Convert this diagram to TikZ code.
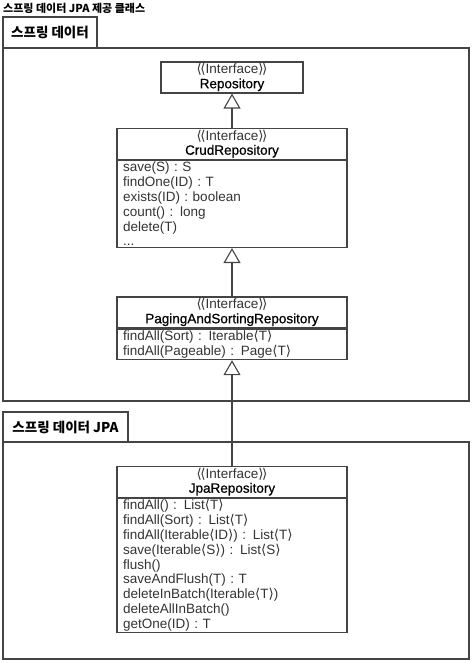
\documentclass[tikz,border=0pt]{standalone}
\usepackage{fontspec}
\setmainfont{Liberation Sans}
\newfontfamily\krfont{Noto Sans CJK KR}
\newfontfamily\namefont[FakeBold=0.6]{Liberation Sans}
\newfontfamily\symfont{DejaVu Sans}
\usepackage{xcolor}
\usetikzlibrary{arrows.meta,
positioning}

\definecolor{lineGray}{HTML}{444444}
\definecolor{textGray}{HTML}{333333}

\newcommand{\langleSym}{\smash{\symfont ⟨}}
\newcommand{\rangleSym}{\smash{\symfont ⟩}}
\newcommand{\stereo}[1]{{\color{textGray}\langleSym\kern-1.5pt\langleSym#1\rangleSym\kern-1.5pt\rangleSym}}

\begin{document}
\begin{tikzpicture}[
    x=1pt,
    y=-1pt,
    frame/.style={
        draw=lineGray,
        line width=1.3pt
    },
    tabLabel/.style={
        font=\krfont\fontsize{13.5}{15}\selectfont\bfseries,
        text=black
    },
    classHead/.style={
        draw=lineGray,
        line width=1.2pt,
        minimum width=#1,
        minimum height=31pt,
        inner sep=0pt,
        align=center,
        fill=white,
        font=\fontsize{13.5}{14.5}\selectfont
    },
    classHead/.default=230pt,
    classBody/.style={
        draw=lineGray,
        line width=1.2pt,
        text width=218pt,
        inner xsep=6pt,
        inner ysep=1.5pt,
        align=left,
        text=textGray,
        font=\fontsize{13.5}{14.8}\selectfont
    },
    extends/.style={
        draw=lineGray,
        line width=1.1pt,
        -{Triangle[open, length=15pt, width=17pt, fill=white]}
    }
]

\useasboundingbox (0,0) rectangle (474,663);

%------------------------------------------------------------------------------
% Title and package frames
%------------------------------------------------------------------------------

\node[anchor=west, inner sep=0pt, font=\krfont\fontsize{11}{12}\selectfont\bfseries]
    (title) at (3,8) {스프링 데이터 JPA 제공 클래스};

\draw[frame] (3,17) rectangle (97,48);
\node[tabLabel] (dataTab) at (50,32.5) {스프링 데이터};
\draw[frame] (3,48) rectangle (469,401);

\draw[frame] (3,412) rectangle (128,442);
\node[tabLabel] (jpaTab) at (65.5,427) {스프링 데이터 JPA};
\draw[frame] (3,442) rectangle (469,659);

%------------------------------------------------------------------------------
% Interfaces
%------------------------------------------------------------------------------

\node[classHead=142pt] (repository) at (232,77.5) {
    \stereo{Interface}\\
    \namefont Repository
};

\node[classHead] (crudHead) at (232,144) {
    \stereo{Interface}\\
    \namefont CrudRepository
};
\node[classBody, below=0pt of crudHead] (crudBody) {
    save(S) : S\\
    findOne(ID) : T\\
    exists(ID) : boolean\\
    count() : long\\
    delete(T)\\
    ...
};

\node[classHead] (pagingHead) at (232,312.5) {
    \stereo{Interface}\\
    \namefont PagingAndSortingRepository
};
\node[classBody, below=0pt of pagingHead] (pagingBody) {
    findAll(Sort) : Iterable\langleSym T\rangleSym\\
    findAll(Pageable) : Page\langleSym T\rangleSym
};

\node[classHead] (jpaHead) at (232,482) {
    \stereo{Interface}\\
    \namefont JpaRepository
};
\node[classBody, below=0pt of jpaHead] (jpaBody) {
    findAll() : List\langleSym T\rangleSym\\
    findAll(Sort) : List\langleSym T\rangleSym\\
    findAll(Iterable\langleSym ID\rangleSym) : List\langleSym T\rangleSym\\
    save(Iterable\langleSym S\rangleSym) : List\langleSym S\rangleSym\\
    flush()\\
    saveAndFlush(T) : T\\
    deleteInBatch(Iterable\langleSym T\rangleSym)\\
    deleteAllInBatch()\\
    getOne(ID) : T
};

%------------------------------------------------------------------------------
% Generalization
%------------------------------------------------------------------------------

\draw[extends] (crudHead.north) -- (repository.south);
\draw[extends] (pagingHead.north) -- (crudBody.south);
\draw[extends] (jpaHead.north) -- (pagingBody.south);

\end{tikzpicture}
\end{document}
